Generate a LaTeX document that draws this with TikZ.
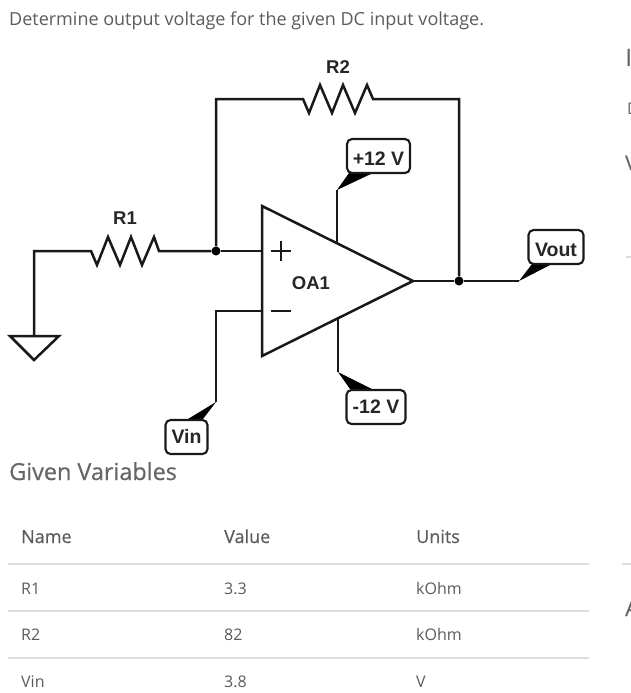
\documentclass[tikz,border=0pt]{standalone}
\usepackage{fontspec}
\setmainfont{Open Sans}
\newfontfamily\arb{Liberation Sans}[BoldFont={Liberation Sans Bold}]
\newfontfamily\osb{Open Sans}[FakeBold=0.5]
\definecolor{body}{HTML}{5C5C5C}
\definecolor{head}{HTML}{666666}
\definecolor{rulec}{HTML}{DDDDDD}
\tikzset{
  wire/.style={line width=2.5pt,line join=miter,black!90},
  thin wire/.style={line width=1.8pt,black!90},
  flag/.style={fill=black,draw=none},
  dot/.style={circle,fill=black,inner sep=0pt,minimum size=9pt},
  vlabel/.style={draw=black!90,line width=2.1pt,rounded corners=5pt,fill=white,inner sep=0pt,minimum height=34pt,text height=13.5pt,text depth=0pt,font=\arb\bfseries\fontsize{19.5}{22}\selectfont,text=black!85},
  clabel/.style={inner sep=0pt,font=\arb\bfseries\fontsize{18.5}{21}\selectfont,text=black!85},
  page/.style={inner sep=0pt,anchor=base west,text=body,font=\fontsize{16}{20}\selectfont},
  pagehead/.style={page,font=\osb\fontsize{18}{20}\selectfont},
  rule/.style={rulec,line width=#1},
}
\begin{document}
\begin{tikzpicture}[x=1pt,y=-1pt]
\useasboundingbox (0,0) rectangle (631,693);
\clip (0,0) rectangle (631,693);
\fill[white] (0,0) rectangle (631,693);

% page text
\node[page,font=\fontsize{18}{22}\selectfont] (title) at (9,26) {Determine output voltage for the given DC input voltage.};
\node[page,text=head,font=\osb\fontsize{23.4}{28}\selectfont] (given) at (9,480) {Given Variables};

% named points
\coordinate (gndtop) at (34,251);
\coordinate (r1a) at (91,251);
\coordinate (r1b) at (159,251);
\node[dot] (jin) at (216,251) {};
\coordinate (cornerTL) at (216,99);
\coordinate (r2a) at (303,99);
\coordinate (r2b) at (373,99);
\coordinate (cornerTR) at (459,99);
\node[dot] (jout) at (459,281) {};
\coordinate (oaA) at (262,206);
\coordinate (oaB) at (262,356);
\coordinate (oaC) at (413,281);
\coordinate (plusin) at (262,251);
\coordinate (minusin) at (262,311);
\coordinate (minusc) at (216,311);
\coordinate (vinflag) at (216,402);
\coordinate (posT) at (337,190);
\coordinate (posB) at (337,243);
\coordinate (negT) at (338,319);
\coordinate (negB) at (338,372);
\coordinate (voutflag) at (519,281);
\coordinate (gnd) at (34,336);

% wires
\draw[wire] (gnd) -- (gndtop) -- (r1a)
  -- (97,265) -- (108,237) -- (120,265) -- (131,237) -- (142,265) -- (154,237) -- (r1b) -- (jin);
\draw[wire] (jin) -- (plusin);
\draw[wire] (jin) -- (cornerTL) -- (r2a)
  -- (309,113) -- (320,85) -- (332,113) -- (343,85) -- (355,113) -- (367,85) -- (r2b) -- (cornerTR) -- (jout);
\draw[wire] (oaC) -- (jout) -- (voutflag);
\draw[wire] (minusin) -- (minusc) -- (vinflag);
\draw[wire] (posB) -- (posT);
\draw[wire] (negT) -- (negB);

% op amp
\draw[wire] (oaA) -- (oaC) -- (oaB) -- cycle;
\draw[thin wire] (271,251) -- (291,251) (281,241) -- (281,261);
\draw[thin wire] (271,311) -- (291,311);
\node[clabel] (lr1) at (125,218) {R1};
\node[clabel] (lr2) at (338,67) {R2};
\node[clabel] (loa) at (311,283.5) {OA1};

% ground symbol
\draw[wire] (10,336) -- (59,336) -- (34,360) -- cycle;

% flags
\fill[flag] (posT) -- (349,173) -- (373,173) -- cycle;
\fill[flag] (negB) -- (350,389) -- (372,389) -- cycle;
\fill[flag] (voutflag) -- (532,264) -- (552,264) -- cycle;
\fill[flag] (vinflag) -- (188,419) -- (203,419) -- cycle;

% labels
\node[vlabel,minimum width=63pt,text height=18pt] (pv) at (378.5,156) {+12 V};
\node[vlabel,minimum width=59pt] (nv) at (376,407) {-12 V};
\node[vlabel,minimum width=55pt,text height=19pt] (vo) at (556,247) {Vout};
\node[vlabel,minimum width=42pt] (vi) at (186.5,437) {Vin};

% table
\node[pagehead] (h1) at (21,543) {Name};
\node[pagehead] (h2) at (224,543) {Value};
\node[pagehead] (h3) at (416,543) {Units};
\draw[rule=2pt] (8,564) -- (589,564);
\draw[rule=1.3pt] (8,611) -- (589,611);
\draw[rule=2pt] (8,658) -- (589,658);
\node[page] (a1) at (21,594) {R1};
\node[page] (a2) at (224,594) {3.3};
\node[page] (a3) at (416,594) {kOhm};
\node[page] (b1) at (21,640) {R2};
\node[page] (b2) at (224,640) {82};
\node[page] (b3) at (416,640) {kOhm};
\node[page] (c1) at (21,687) {Vin};
\node[page] (c2) at (224,687) {3.8};
\node[page] (c3) at (416,687) {V};

% clipped neighbouring column
\node[page,text=head,font=\osb\fontsize{24}{28}\selectfont] (xi) at (625,66) {I};
\node[page,text=head] (xd) at (627,114) {D};
\node[page,text=head,font=\osb\fontsize{20}{24}\selectfont] (xv) at (625,170) {V};
\draw[rule=1.2pt] (626,257) -- (631,257);
\draw[rule=1.5pt] (622,564) -- (631,564);
\node[page,text=head,font=\osb\fontsize{22}{26}\selectfont] (xa) at (625,616) {A};
\end{tikzpicture}
\end{document}
